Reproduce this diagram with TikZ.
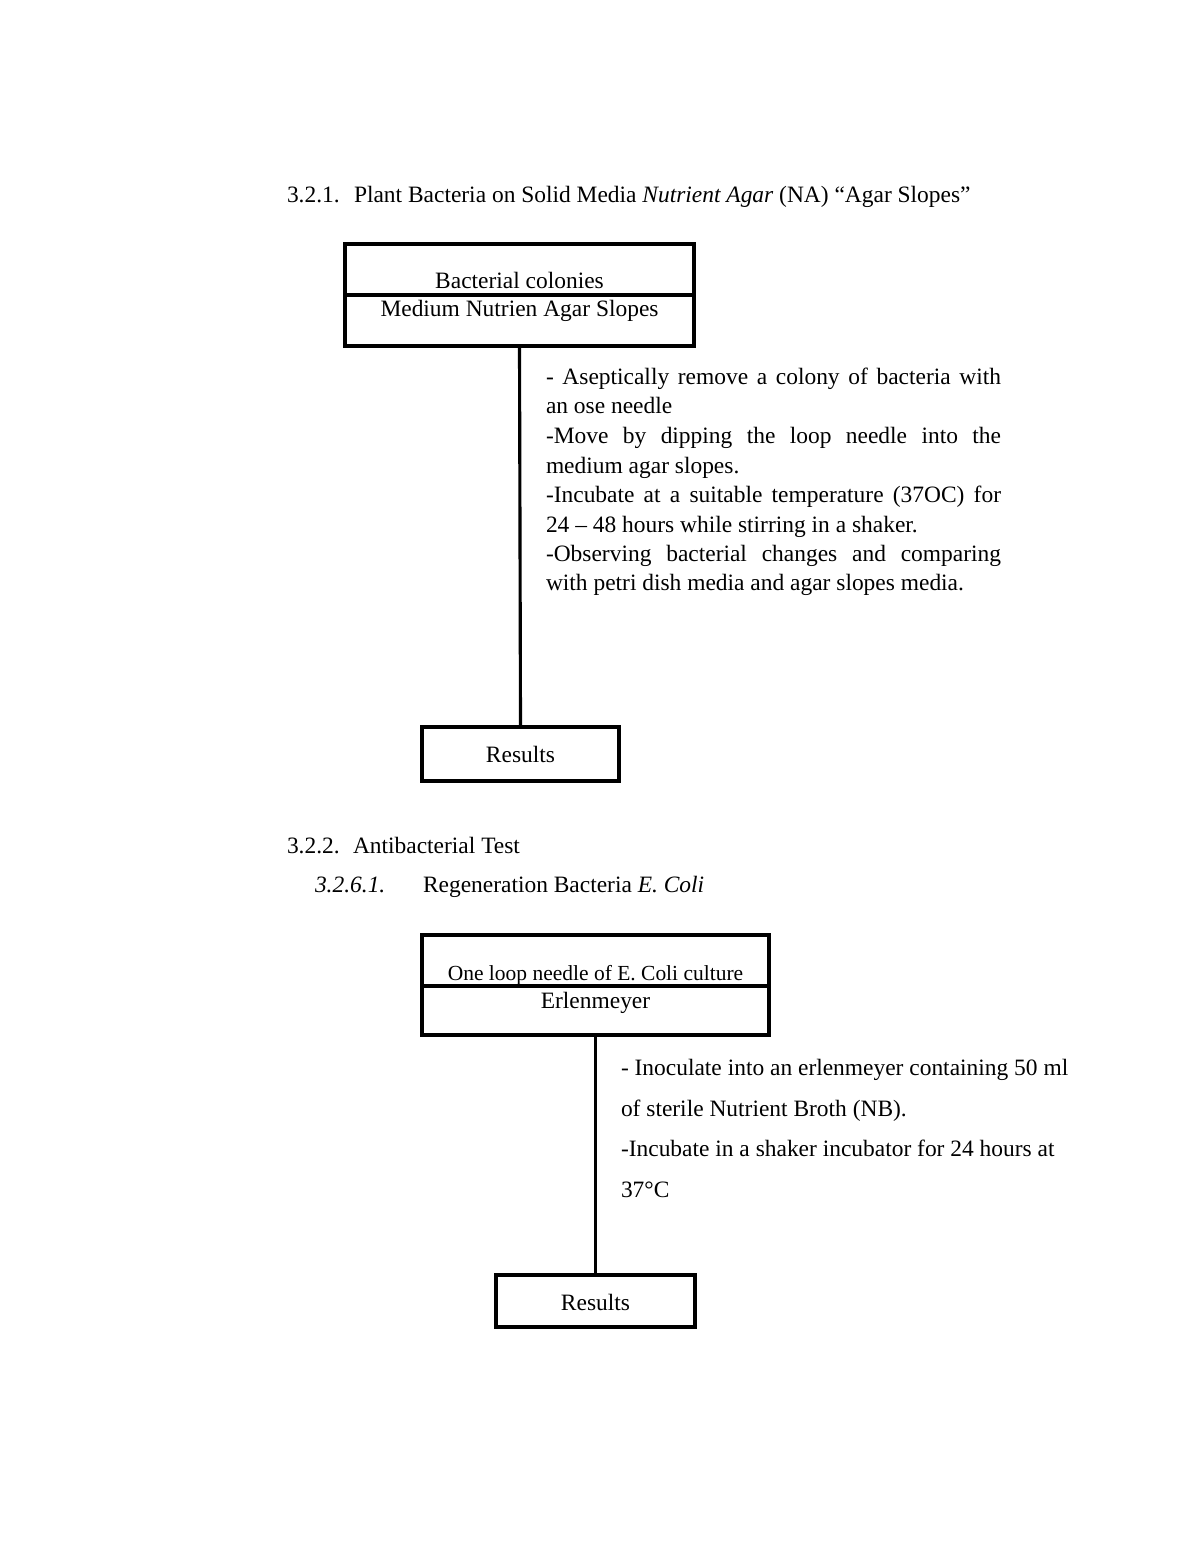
\documentclass[tikz,border=0pt]{standalone}
\usepackage{fontspec}
\setmainfont{Liberation Serif}
\newlength{\jw}\setlength{\jw}{232.05bp}
\begin{document}
\begin{tikzpicture}[x=0.51bp,y=-0.51bp,
  box/.style={draw,line width=1.6bp,inner sep=0pt,outer sep=0pt,anchor=north west},
  conn/.style={line width=1.6bp},
  txt/.style={inner sep=0pt,outer sep=0pt,font=\fontsize{12}{14}\selectfont},
  small/.style={inner sep=0pt,outer sep=0pt,font=\fontsize{11}{12}\selectfont}]
\useasboundingbox (0,0) rectangle (1200,1553);
% heading 1
\node[txt,anchor=base west] (h1n) at (287,203) {3.2.1.};
\node[txt,anchor=base west] (h1t) at (354,203) {Plant Bacteria on Solid Media \textit{Nutrient Agar} (NA) “Agar Slopes”};
% box 1
\node[box,minimum width={349*0.51bp},minimum height={51*0.51bp}] (bc) at (345,244) {};
\node[box,minimum width={349*0.51bp},minimum height={51*0.51bp}] (mn) at (345,295) {};
\node[txt,anchor=base] (bct) at (519.5,289) {Bacterial colonies};
\node[txt,anchor=base] (mnt) at (519.5,317) {Medium Nutrien Agar Slopes};
\node[box,minimum width={197*0.51bp},minimum height={54*0.51bp}] (r1) at (422,727) {};
\node[txt,anchor=base] (r1t) at (520.5,762) {Results};
\draw[conn] (mn.south) -- (r1.north);
% text block 1
\node[txt,anchor=base west] (a1) at (546,385) {\makebox[\jw][s]{- Aseptically remove a colony of bacteria with}};
\node[txt,anchor=base west] (a2) at (546,414) {an ose needle};
\node[txt,anchor=base west] (a3) at (546,444) {\makebox[\jw][s]{-Move by dipping the loop needle into the}};
\node[txt,anchor=base west] (a4) at (546,473) {medium agar slopes.};
\node[txt,anchor=base west] (a5) at (546,502) {\makebox[\jw][s]{-Incubate at a suitable temperature (37OC) for}};
\node[txt,anchor=base west] (a6) at (546,532) {24 – 48 hours while stirring in a shaker.};
\node[txt,anchor=base west] (a7) at (546,561) {\makebox[\jw][s]{-Observing bacterial changes and comparing}};
\node[txt,anchor=base west] (a8) at (546,590) {with petri dish media and agar slopes media.};
% heading 2
\node[txt,anchor=base west] (h2n) at (287,853) {3.2.2.};
\node[txt,anchor=base west] (h2t) at (353,853) {Antibacterial Test};
\node[txt,anchor=base west] (h3n) at (315,892) {\textit{3.2.6.1.}};
\node[txt,anchor=base west] (h3t) at (423,892) {Regeneration Bacteria \textit{E. Coli}};
% box 2
\node[box,minimum width={347*0.51bp},minimum height={51*0.51bp}] (ol) at (422,935) {};
\node[box,minimum width={347*0.51bp},minimum height={49*0.51bp}] (er) at (422,986) {};
\node[small,anchor=base] (olt) at (595.5,980) {One loop needle of E. Coli culture};
\node[txt,anchor=base] (ert) at (595.5,1008) {Erlenmeyer};
\node[box,minimum width={199*0.51bp},minimum height={52*0.51bp}] (r2) at (496,1275) {};
\node[txt,anchor=base] (r2t) at (595.5,1310) {Results};
\draw[conn] (er.south) -- (r2.north);
% text block 2
\node[txt,anchor=base west] (b1) at (621,1075) {- Inoculate into an erlenmeyer containing 50 ml};
\node[txt,anchor=base west] (b2) at (621,1116) {of sterile Nutrient Broth (NB).};
\node[txt,anchor=base west] (b3) at (621,1156) {-Incubate in a shaker incubator for 24 hours at};
\node[txt,anchor=base west] (b4) at (621,1197) {37°C};
\end{tikzpicture}
\end{document}
